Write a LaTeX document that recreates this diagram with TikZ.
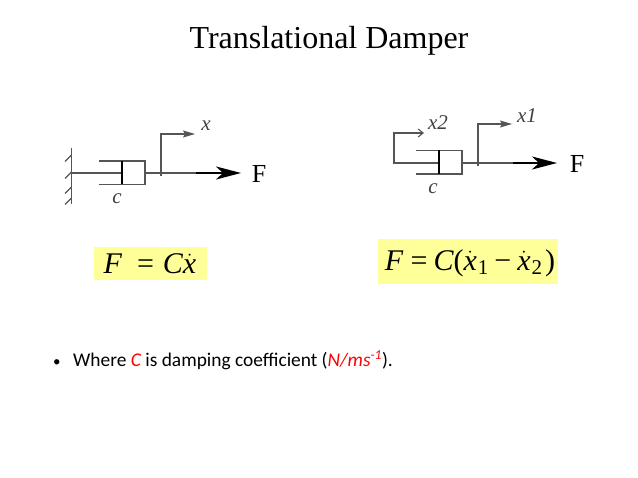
\documentclass[tikz,border=0pt]{standalone}
\usepackage{fontspec}
\setmainfont{Liberation Serif}
\newfontfamily\bodyfont{Carlito}
\usetikzlibrary{arrows.meta}
\definecolor{eqyellow}{RGB}{255,255,153}
\definecolor{linegray}{RGB}{85,85,85}
\newcommand{\dotx}{$\dot{\hbox{\itshape x}}$}
\tikzset{
  wire/.style={draw=linegray,line width=1.1pt},
  piston/.style={draw=black,line width=2.6pt},
  forcearrow/.style={draw=black,line width=2pt,-{Stealth[length=25pt,width=13pt,inset=7pt]}},
  disparrow/.style={wire,-{Stealth[length=12pt,width=7pt,inset=2pt]}},
  openarrow/.style={wire,-{Straight Barb[length=5pt,width=8pt]}},
  sym/.style={inner sep=0pt,text=black!75,font=\fontsize{21}{23}\selectfont\itshape},
  forcelabel/.style={inner sep=0pt,font=\fontsize{26}{28}\selectfont},
  eqbox/.style={fill=eqyellow,inner sep=0pt},
  eqtext/.style={inner sep=0pt,font=\fontsize{30}{32}\selectfont}
}
\begin{document}
\begin{tikzpicture}[x=1pt,y=-1pt]
\useasboundingbox[fill=white] (0,0) rectangle (638,478);
\node[inner sep=0pt,font=\fontsize{32}{34}\selectfont] (title) at (329,40.5) {Translational Damper};

% left damper
\coordinate (wt) at (71.5,148); \coordinate (wb) at (71.5,204);
\draw[wire] (wt) -- (wb);
\foreach \y in {155,172,187,198} \draw[wire] (71.5,\y) -- ++(-6.5,6.5);
\coordinate (lp) at (122,173);
\coordinate (lpt) at (122,161); \coordinate (lpb) at (122,184.5);
\coordinate (lcr) at (145,173);
\coordinate (lf) at (196,173); \coordinate (lfe) at (241,173);
\draw[wire] (71.5,173) -- (lp);
\draw[wire] (99,161) -- (145,161) -- (145,184.5) -- (99,184.5);
\draw[piston] (lpt) -- (lpb);
\draw[wire] (lcr) -- (lf);
\draw[forcearrow] (lf) -- (lfe);
\coordinate (ld) at (195,134);
\draw[disparrow] (161,176) -- (161,134) -- (ld);
\node[sym] (lx) at (206,126) {x};
\node[forcelabel] (lF) at (259,174) {F};
\node[sym] (lc) at (117,199) {c};
\node[eqbox,minimum width=113pt,minimum height=33pt] (leqb) at (150.5,263.5) {};
\node[eqtext,anchor=base] (leq) at (150,274) {\itshape F\hspace{0.5em}\upshape=\hspace{0.3em}\itshape C\dotx};

% right damper
\coordinate (rl) at (394,163);
\coordinate (rp) at (439,163);
\coordinate (rpt) at (439,150.5); \coordinate (rpb) at (439,174);
\coordinate (rcr) at (462,163);
\coordinate (rf) at (513,163); \coordinate (rfe) at (557,163);
\draw[openarrow] (rp) -- (rl) -- (394,133) -- (424,133);
\draw[wire] (416,150.5) -- (462,150.5) -- (462,174) -- (416,174);
\draw[piston] (rpt) -- (rpb);
\draw[wire] (rcr) -- (rf);
\draw[forcearrow] (rf) -- (rfe);
\draw[disparrow] (478,166) -- (478,124) -- (512,124);
\node[sym] (rx2) at (438,123) {x2};
\node[sym] (rx1) at (527,116) {x1};
\node[forcelabel] (rF) at (577,164) {F};
\node[sym] (rc) at (433,189) {c};
\node[eqbox,minimum width=180pt,minimum height=45pt] (reqb) at (468,261.5) {};
\node[eqtext,anchor=base] (req) at (470,271) {\itshape F\hspace{0.25em}\upshape=\hspace{0.2em}\itshape C\upshape(\dotx\kern1pt\raisebox{-4pt}{\fontsize{21}{23}\selectfont 1}\hspace{0.2em}\textminus\hspace{0.2em}\dotx\kern1pt\raisebox{-4pt}{\fontsize{21}{23}\selectfont 2}\hspace{0.1em})};

% bullet
\node[inner sep=0pt,anchor=base west,font=\bodyfont\fontsize{15}{20}\selectfont] (bul) at (53,367) {•};
\node[inner sep=0pt,anchor=base west,font=\bodyfont\fontsize{19.4}{22}\selectfont] (txt) at (73,367) {Where \textcolor{red}{\itshape C} is damping coefficient (\textcolor{red}{\itshape N/ms\textsuperscript{-1}}).};
\end{tikzpicture}
\end{document}
